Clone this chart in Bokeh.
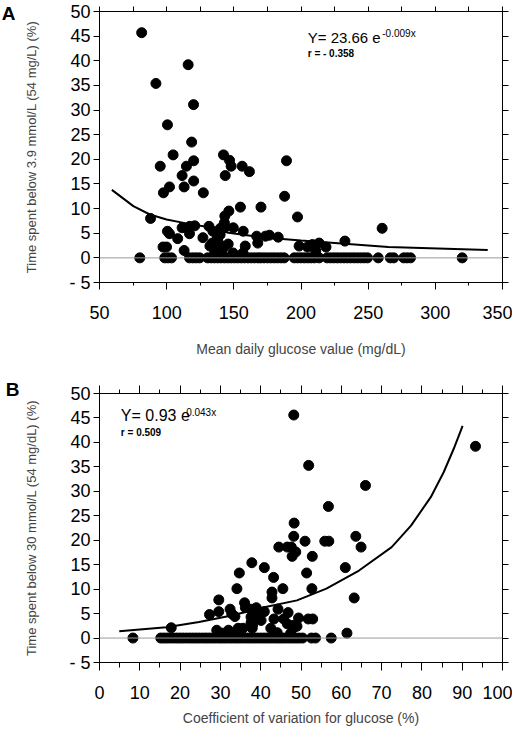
from bokeh.plotting import figure
from bokeh.models import LinearAxis, FixedTicker, Span, Label, Range1d, CustomLabelingPolicy
from bokeh.layouts import column, row
from bokeh.embed import file_html
from bokeh.resources import INLINE
from bokeh.core.properties import value

FONT = "Liberation Sans"

# ---------------- Panel A data ----------------
a_x = [81.4, 92, 116, 120, 100.6, 118.6, 104.8, 95.2, 114.7, 120.1, 111.5, 120.1, 102.1, 97.6, 113, 127.3,
       142.3, 146.8, 148, 156.2, 161.6, 143.6, 189.2, 187.8, 154.9, 170.2, 146.3, 143.3, 197.4, 88, 260.4,
       143, 149.6, 143.1, 120.9, 117.2, 111.5, 131.5, 100.6, 102.1, 117, 157, 127, 108.2, 137.6, 167, 173.5,
       176.5, 183, 167.8, 132.2, 139.6, 145.8, 158.5, 97.3, 99.9, 113, 198.6, 204.8, 208.5, 213.5, 218.6,
       232.7, 135.8, 149.4, 156.8, 211, 141, 134.4, 139.8, 138.1, 142.3, 134, 137, 140]
a_y = [45.7, 35.4, 39.2, 31.1, 27.0, 23.5, 20.9, 18.6, 18.6, 19.7, 16.7, 15.6, 14.4, 13.2, 14.4, 13.2,
       20.9, 19.8, 18.6, 18.6, 17.5, 16.7, 19.7, 12.5, 10.3, 10.3, 9.5, 8.5, 8.3, 8.0, 6.0,
       7.1, 6.1, 6.1, 6.5, 6.4, 6.1, 6.4, 5.4, 4.9, 4.9, 5.4, 4.1, 3.9, 3.9, 4.4, 4.4,
       4.6, 4.2, 3.0, 2.4, 2.7, 2.8, 2.4, 2.2, 2.2, 1.5, 2.4, 2.2, 2.7, 3.0, 2.2,
       3.4, 1.4, 1.0, 1.0, 1.4, 1.5, 5.4, 4.7, 3.4, 2.0, 3.0, 1.0, 6.0]
a_zero_x = [80, 98.6, 101, 103.6, 117, 119.5, 122, 124.5, 130.5, 133, 135.5, 138, 140.5, 143, 145.5, 148,
            150.5, 153, 155.5, 158, 160.5, 163, 165.5, 168, 170, 172.5, 175, 177.5, 180, 182.5, 185, 187.5,
            195, 197.5, 200, 202.5, 205, 207.5, 210, 213.5, 219.5, 222, 224.5, 227, 229.5, 232, 234.5, 237,
            239.5, 242, 244.5, 247, 249.5, 257.5, 266.5, 269, 276.5, 279, 281.5, 320]
a_curve_x = [59.2, 75.2, 87.5, 99.9, 114.6, 129.5, 146, 170, 200, 265, 339]
a_curve_y = [13.8, 10.5, 8.8, 7.8, 7.0, 6.3, 5.1, 4.2, 3.5, 2.2, 1.6]
a_xticks = [50, 100, 150, 200, 250, 300, 350]
a_xminor = [75, 125, 175, 225, 275, 325]
a_top_ticks = [50, 75, 100, 125, 150, 175, 200, 225, 250, 275, 300, 325, 350]

# ---------------- Panel B data ----------------
b_x = [48.2, 93.3, 51.9, 66, 56.8, 48.3, 48.2, 51, 55.9, 56.9, 63.6, 64.9, 44.5, 46.6, 47.6, 48.7, 47.8,
       52.8, 37.8, 40.9, 61, 34.7, 51.4, 43.2, 34.1, 45.5, 52.7, 42.8, 42.8, 63.2, 29.6, 36, 36.2, 37.6,
       38.9, 29.6, 27.3, 32.4, 44.3, 46.8, 32.8, 33.6, 37.6, 40.1, 40.9, 43.3, 45.7, 49.4, 51.8, 52.9,
       37.6, 40.1, 46.6, 48.2, 34.4, 35.6, 37.9, 42.5, 48, 49, 17.8, 29.1, 32, 61.4, 44.1, 47.4, 38,
       30.5, 33, 39.5]
b_y = [45.6, 39.2, 35.3, 31.2, 26.9, 23.5, 20.8, 19.8, 19.8, 19.8, 20.8, 18.6, 18.6, 18.6, 18.6, 17.6, 16.7,
       16.7, 15.4, 14.4, 14.4, 13.3, 13.3, 12.4, 10.1, 10.1, 10.1, 9.4, 8.2, 8.2, 7.8, 7.2, 6.2, 5.9,
       6.2, 5.4, 4.8, 5.9, 5.9, 5.2, 5.0, 4.4, 4.3, 5.2, 5.4, 3.9, 3.9, 4.1, 3.9, 3.9,
       3.1, 3.6, 2.9, 2.6, 2.0, 2.0, 2.0, 2.0, 2.0, 2.4, 2.1, 1.6, 1.6, 1.0, 1.1, 0.9, 2.7,
       1.0, 0.8, 4.5]
b_zero_x = [8.3, 15.2, 16.0, 16.8, 17.6, 18.4, 19.2, 20.0, 20.8, 21.6, 22.4, 23.2, 24.0, 24.8, 25.6, 26.4,
            27.2, 28.0, 28.8, 29.6, 30.4, 31.2, 32.0, 32.8, 33.6, 34.4, 35.2, 36.0, 36.8, 37.6, 38.4, 39.2,
            40.0, 40.8, 41.6, 42.4, 43.2, 44.0, 44.8, 45.6, 46.4, 47.2, 48.0, 48.8, 49.6, 50.4, 52.6, 53.6,
            57.5]
b_curve_x = [4.9, 16.6, 24.7, 32.8, 40.9, 49.0, 56.3, 64.4, 72.5, 77.3, 82.2, 85.4, 87.9, 90.1]
b_curve_y = [1.4, 2.2, 3.3, 4.6, 6.3, 7.7, 10.1, 13.8, 18.6, 23.0, 28.8, 33.9, 38.7, 43.4]
b_xticks = [0, 10, 20, 30, 40, 50, 60, 70, 80, 90, 100]
b_xminor = [5, 15, 25, 35, 45, 55, 65, 75, 85, 95]

y_ticks = [-5, 0, 5, 10, 15, 20, 25, 30, 35, 40, 45, 50]
panel_letters = ["A", "B"]

LETTER_W = 20
HA = 365
HB = 365
PW = 512 - LETTER_W


def style_axis(ax, labels=True):
    ax.axis_line_color = "black"
    ax.axis_line_width = 1
    ax.major_tick_line_color = "black"
    ax.minor_tick_line_color = "black"
    ax.major_tick_in = 0
    ax.minor_tick_in = 0
    if labels:
        ax.major_label_text_font = FONT
        ax.major_label_text_font_size = "18px"
        ax.major_label_text_color = "black"
    else:
        ax.major_label_text_font_size = "1px"
        ax.major_label_standoff = 0
        ax.major_label_policy = CustomLabelingPolicy(code="return new Set()")


def make_panel(xr, w, h, mb_left, mb_right, mb_top, mb_bottom):
    p = figure(width=w, height=h, x_range=Range1d(*xr), y_range=Range1d(-5, 50),
               output_backend="svg", toolbar_location=None,
               min_border_left=mb_left, min_border_right=mb_right,
               min_border_top=mb_top, min_border_bottom=mb_bottom)
    p.xgrid.visible = False
    p.ygrid.visible = False
    p.outline_line_color = "black"
    p.background_fill_color = "white"
    p.border_fill_color = "white"
    return p


def finish(p, xticks, xminor, top_major, top_minor, top_major_out, top_minor_out,
           bot_major_out, bot_minor_out, xlabel, ylabel, bot_standoff, bot_label_standoff):
    xa = p.xaxis[0]
    style_axis(xa)
    xa.ticker = FixedTicker(ticks=xticks, minor_ticks=xminor)
    xa.major_tick_out = bot_major_out
    xa.minor_tick_out = bot_minor_out
    xa.major_label_standoff = bot_standoff
    xa.axis_label = xlabel
    xa.axis_label_text_font = FONT
    xa.axis_label_text_font_size = "14px"
    xa.axis_label_text_font_style = "normal"
    xa.axis_label_standoff = bot_label_standoff

    ya = p.yaxis[0]
    style_axis(ya)
    ya.ticker = FixedTicker(ticks=y_ticks, minor_ticks=[])
    ya.major_tick_out = 6
    ya.major_label_standoff = 3
    ya.major_label_overrides = {-5: "- 5"}
    ya.axis_label = ylabel
    ya.axis_label_text_font = FONT
    ya.axis_label_text_font_size = "13px"
    ya.axis_label_text_font_style = "normal"
    ya.axis_label_standoff = 27

    top = LinearAxis(ticker=FixedTicker(ticks=top_major, minor_ticks=top_minor))
    style_axis(top, labels=False)
    top.major_tick_out = top_major_out
    top.minor_tick_out = top_minor_out
    p.add_layout(top, "above")

    right = LinearAxis(ticker=FixedTicker(ticks=y_ticks, minor_ticks=[]))
    style_axis(right, labels=False)
    right.major_tick_out = 6
    p.add_layout(right, "right")

    p.add_layout(Span(location=0, dimension="width", line_color="#9a9a9a", line_width=1))


# ---------------- Panel A ----------------
pa = make_panel((50, 350), PW, HA, 79, 7, 11, 83)
finish(pa, a_xticks, a_xminor, a_top_ticks, [], 5, 0, 7, 3,
       "Mean daily glucose value (mg/dL)", "Time spent below 3.9 mmol/L (54 mg/L) (%)", 16, 19)
pa.line(a_curve_x, a_curve_y, line_color="black", line_width=2)
pa.scatter(a_x, a_y, size=10, fill_color="black", line_color="black")
pa.scatter(a_zero_x, [0] * len(a_zero_x), size=10, fill_color="black", line_color="black")
pa.add_layout(Label(x=205, y=44.7, text="Y= 23.66 e", text_font=FONT, text_font_size="15px",
                    text_baseline="middle", text_align="left", text_color="black"))
pa.add_layout(Label(x=260.5, y=45.6, text="-0.009x", text_font=FONT, text_font_size="10px",
                    text_baseline="middle", text_align="left", text_color="black"))
pa.add_layout(Label(x=205, y=41.5, text="r = - 0.358", text_font=FONT, text_font_size="10px",
                    text_font_style="bold", text_baseline="middle", text_align="left", text_color="black"))

# ---------------- Panel B ----------------
pb = make_panel((0, 100), PW, HB, 78, 7, 28, 68)
finish(pb, b_xticks, b_xminor, b_xticks, b_xminor, 8, 4, 8, 5,
       "Coefficient of variation for glucose (%)", "Time spent below 30 mmol/L (54 mg/dL) (%)", 15, 8)
pb.line(b_curve_x, b_curve_y, line_color="black", line_width=2)
pb.scatter(b_x, b_y, size=10, fill_color="black", line_color="black")
pb.scatter(b_zero_x, [0] * len(b_zero_x), size=10, fill_color="black", line_color="black")
pb.add_layout(Label(x=5.3, y=45.4, text="Y= 0.93 e", text_font=FONT, text_font_size="16px",
                    text_baseline="middle", text_align="left", text_color="black"))
pb.add_layout(Label(x=21.5, y=46.1, text="0.043x", text_font=FONT, text_font_size="10px",
                    text_baseline="middle", text_align="left", text_color="black"))
pb.add_layout(Label(x=5.3, y=42.0, text="r = 0.509", text_font=FONT, text_font_size="10px",
                    text_font_style="bold", text_baseline="middle", text_align="left", text_color="black"))

# ---------------- panel letters (own strip, pixel units) ----------------
HT = HA + HB
lf = figure(width=LETTER_W, height=HT, x_range=Range1d(0, LETTER_W), y_range=Range1d(HT, 0),
            output_backend="svg", toolbar_location=None, min_border=0)
lf.axis.visible = False
lf.grid.visible = False
lf.outline_line_color = None
lf.border_fill_color = "white"
lf.background_fill_color = "white"
lf.text(x=[8, 12], y=[13, 389], text=panel_letters, text_font=value(FONT), text_font_size="19px",
        text_font_style="bold", text_baseline="middle", text_align="center", text_color="black")

layout = row(lf, column(pa, pb, spacing=0), spacing=0)
open("out.html", "w").write(file_html(layout, INLINE))
